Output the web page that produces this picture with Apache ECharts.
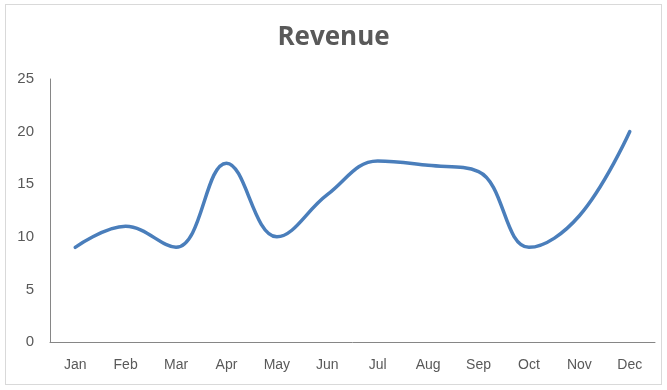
<!DOCTYPE html>
<html>
<head>
<meta charset="utf-8">
<script src="https://cdn.jsdelivr.net/npm/echarts@6/dist/echarts.min.js"></script>
<style>
html,body{margin:0;padding:0;background:#fff;}
#frame{position:absolute;left:5px;top:4px;width:657px;height:381px;border:1px solid #d9d9d9;box-sizing:border-box;}
#chart{position:absolute;left:0;top:0;width:667px;height:390px;}
</style>
</head>
<body>
<div id="frame"></div>
<div id="chart"></div>
<script>
const categories = ['Jan','Feb','Mar','Apr','May','Jun','Jul','Aug','Sep','Oct','Nov','Dec'];
const revenue = [9, 11, 9, 17, 10, 14, 17.2, 16.8, 16.2, 9, 12, 20];
const chartTitle = 'Revenue';

const chart = echarts.init(document.getElementById('chart'), null, {renderer:'canvas'});
chart.setOption({
  animation: false,
  title: {
    text: chartTitle,
    left: 'center',
    top: 20,
    textStyle: {fontFamily: 'Open Sans', fontSize: 26, fontWeight: 'bold', color: '#595959'}
  },
  grid: {left: 50, right: 12, top: 79, bottom: 48, containLabel: false},
  xAxis: {
    type: 'category',
    data: categories,
    boundaryGap: true,
    axisLine: {lineStyle: {color: '#868686', width: 1}},
    axisTick: {show: false},
    axisLabel: {color: '#595959', fontFamily: 'Liberation Sans', fontSize: 14, margin: 16}
  },
  yAxis: {
    type: 'value',
    min: 0, max: 25, interval: 5,
    axisLine: {show: true, lineStyle: {color: '#868686', width: 1}},
    axisTick: {show: false},
    splitLine: {show: false},
    axisLabel: {color: '#595959', fontFamily: 'Liberation Sans', fontSize: 15, margin: 16}
  },
  series: [{
    type: 'line',
    data: revenue,
    smooth: 0.4,
    symbol: 'none',
    lineStyle: {color: '#4a7ebb', width: 3.5, cap: 'round'}
  }]
});
</script>
</body>
</html>
